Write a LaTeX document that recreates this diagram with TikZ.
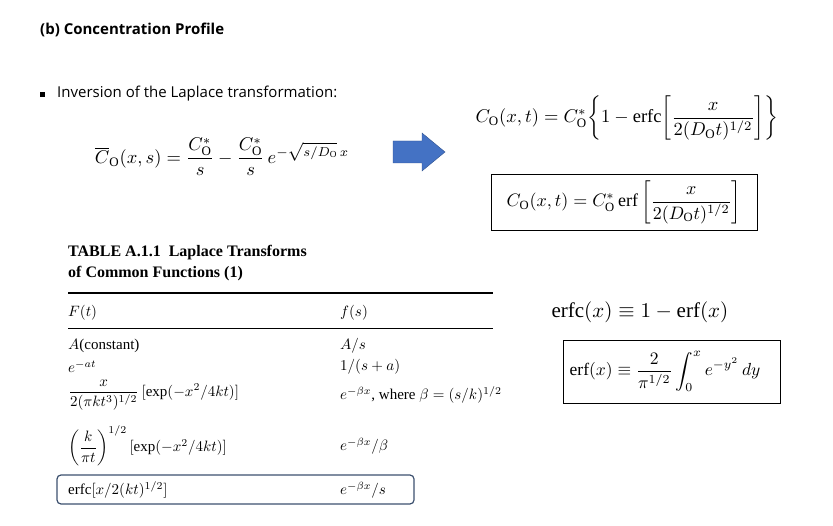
\documentclass[tikz,border=0pt]{standalone}
\usepackage{amsmath,amssymb,graphicx}
\usepackage{fontspec}
\setmainfont{Liberation Serif}
\newfontfamily\titlefont{Open Sans}
\definecolor{arrfill}{RGB}{68,114,196}
\definecolor{arrdraw}{RGB}{47,82,143}
\definecolor{hbcol}{RGB}{60,80,110}
\newcommand\EqS[2]{\scalebox{#1}{#2}}
\newcommand\TbS[1]{\scalebox{1.5}{#1}}
\tikzset{lbl/.style={anchor=west,inner sep=0pt},
 eq/.style={inner sep=0pt}}
\begin{document}
\begin{tikzpicture}[x=1pt,y=-1pt]
\useasboundingbox (0,0) rectangle (833,526);
\node[anchor=west,inner sep=0pt,font=\titlefont\bfseries\fontsize{15}{18}\selectfont] (title) at (40,30) {(b) Concentration Profile};
\node[fill=black,minimum size=5pt,inner sep=0pt] (bul) at (42,95) {};
\node[anchor=west,inner sep=0pt,font=\titlefont\fontsize{15}{18}\selectfont] (inv) at (57,94) {Inversion of the Laplace transformation:};
\node[eq] (lap) at (222,157) {\EqS{1.85}{$\overline{C}_{\mathrm{O}}(x,s)=\dfrac{C_{\mathrm{O}}^{*}}{s}-\dfrac{C_{\mathrm{O}}^{*}}{s}\,e^{-\sqrt{s/D_{\mathrm{O}}}\,x}$}};
\filldraw[fill=arrfill,draw=arrdraw] (393,141) -- (422,141) -- (422,133) -- (445,152) -- (422,171) -- (422,163) -- (393,163) -- cycle;
\node[eq] (c1) at (627,118) {\EqS{1.85}{$C_{\mathrm{O}}(x,t)=C_{\mathrm{O}}^{*}\!\left\{1-\operatorname{erfc}\!\left[\dfrac{x}{2(D_{\mathrm{O}}t)^{1/2}}\right]\right\}$}};
\node[draw,thick,minimum width=266pt,minimum height=56pt,inner sep=0pt] (b2) at (624,202) {};
\node[eq] (c2) at (b2) {\EqS{1.8}{$C_{\mathrm{O}}(x,t)=C_{\mathrm{O}}^{*}\operatorname{erf}\left[\dfrac{x}{2(D_{\mathrm{O}}t)^{1/2}}\right]$}};
\node[anchor=west,inner sep=0pt,align=left,font=\bfseries\fontsize{16}{21}\selectfont] (tt) at (68,263) {TABLE A.1.1\enspace Laplace Transforms\\of Common Functions (1)};
\coordinate (r1a) at (68,293); \coordinate (r1b) at (493,293);
\draw[line width=1.5pt] (r1a) -- (r1b);
\node[lbl] (h1) at (68,313) {\TbS{$F(t)$}};
\node[lbl] (h2) at (340,313) {\TbS{$f(s)$}};
\coordinate (r2a) at (68,328); \coordinate (r2b) at (493,328);
\draw[line width=0.7pt] (r2a) -- (r2b);
\node[lbl] (a1) at (68,346) {\TbS{$A$(constant)}};
\node[lbl] (b1) at (340,346) {\TbS{$A/s$}};
\node[lbl] (a2) at (68,367) {\TbS{$e^{-at}$}};
\node[lbl] (bb2) at (340,367) {\TbS{$1/(s+a)$}};
\node[lbl] (a3) at (68,395) {\TbS{$\dfrac{x}{2(\pi k t^3)^{1/2}}\,[\exp(-x^2/4kt)]$}};
\node[lbl] (b3) at (340,395) {\TbS{$e^{-\beta x}$, where $\beta=(s/k)^{1/2}$}};
\node[lbl] (a4) at (68,446) {\TbS{$\left(\dfrac{k}{\pi t}\right)^{1/2}[\exp(-x^2/4kt)]$}};
\node[lbl] (b4) at (340,446) {\TbS{$e^{-\beta x}/\beta$}};
\node[draw=hbcol,line width=1.2pt,rounded corners=4pt,minimum width=357pt,minimum height=29pt,inner sep=0pt] (hb) at (235.5,489.5) {};
\node[lbl] (a5) at (68,490) {\TbS{$\operatorname{erfc}[x/2(kt)^{1/2}]$}};
\node[lbl] (b5) at (340,490) {\TbS{$e^{-\beta x}/s$}};
\node[eq] (ec) at (640,312) {\EqS{2.1}{$\operatorname{erfc}(x)\equiv 1-\operatorname{erf}(x)$}};
\node[draw,thick,minimum width=217pt,minimum height=63pt,inner sep=0pt] (b3b) at (671.5,371.5) {};
\node[eq] (ef) at (665,371.5) {\EqS{1.75}{$\operatorname{erf}(x)\equiv\dfrac{2}{\pi^{1/2}}\displaystyle\int_0^x e^{-y^2}\,dy$}};
\end{tikzpicture}
\end{document}
